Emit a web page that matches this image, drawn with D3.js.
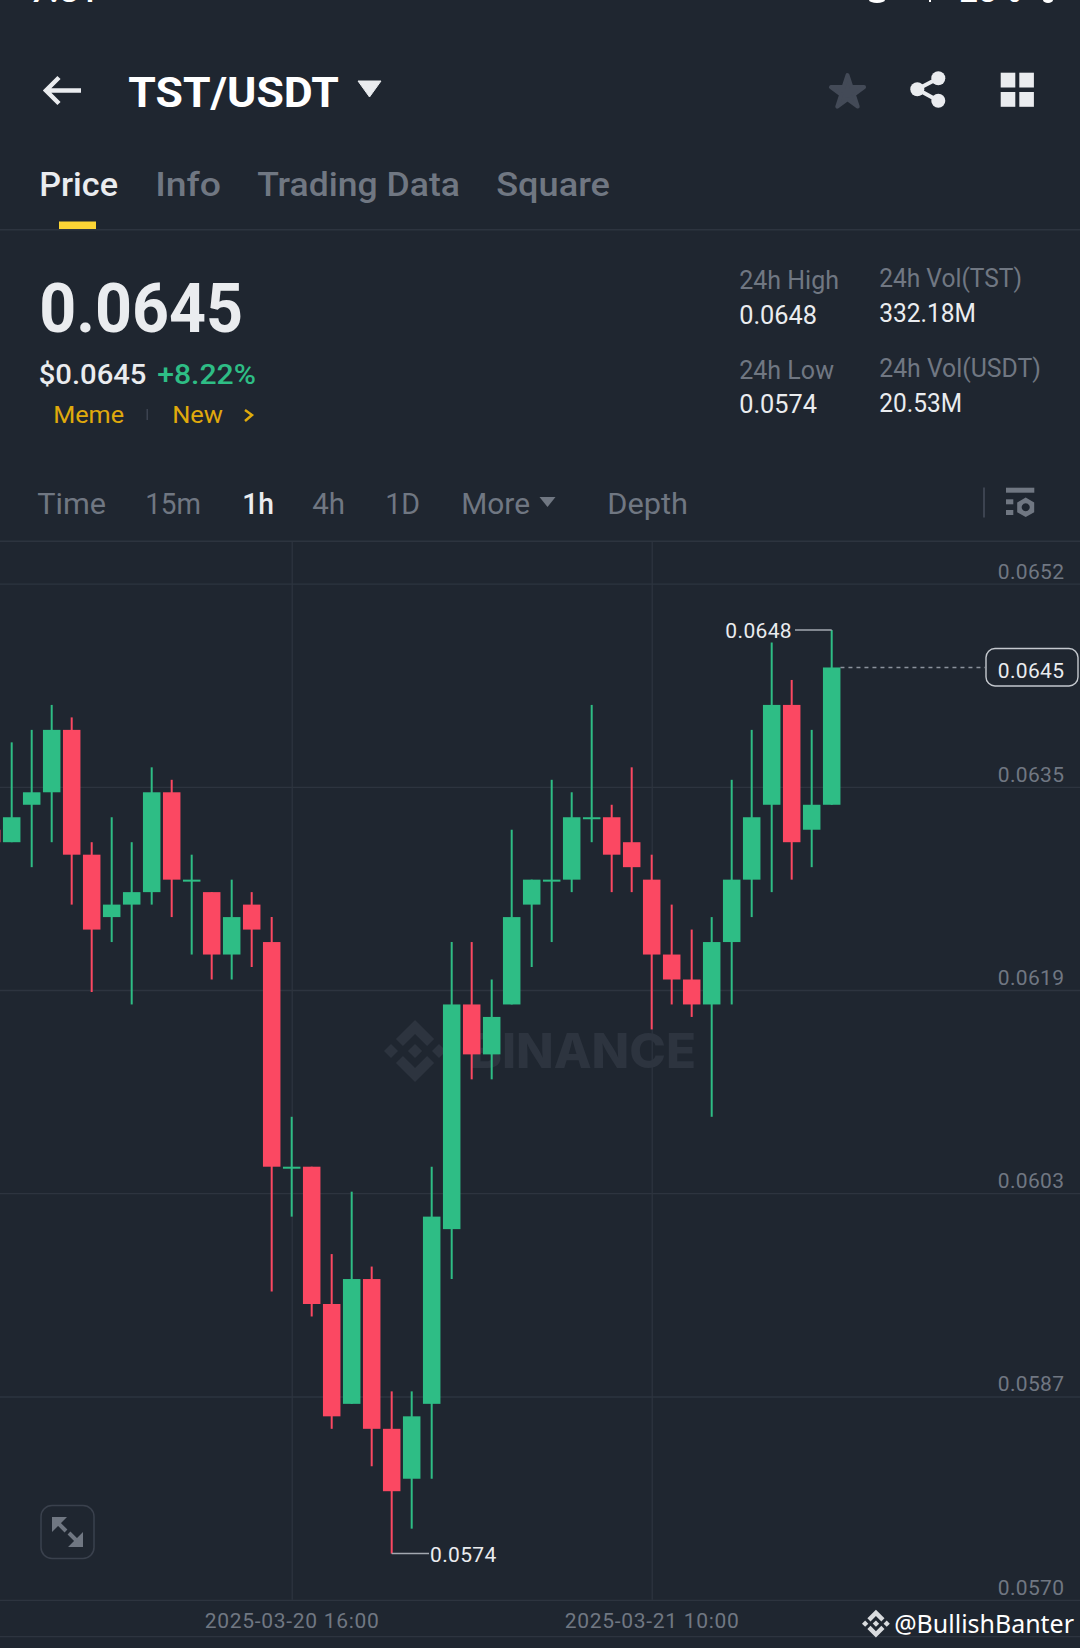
<!DOCTYPE html>
<html>
<head>
<meta charset="utf-8">
<title>TST/USDT</title>
<script src="https://cdn.jsdelivr.net/npm/d3@7/dist/d3.min.js"></script>
<style>
  html, body { margin: 0; padding: 0; background: #1f2630; }
  svg { display: block; }
  text { font-family: Roboto, "Noto Sans", sans-serif; }
</style>
</head>
<body>
<div id="chart"></div>
<script>
// hourly candles, the first one is only just visible at the left edge
const firstCandle = new Date(2025, 2, 20, 1);
const candleOpen  = [0.0632, 0.0631, 0.0634, 0.0635, 0.0640, 0.0630, 0.0625, 0.0626, 0.0627, 0.0635, 0.0628, 0.0627, 0.0622, 0.0626, 0.0623, 0.0605, 0.0605, 0.0594, 0.0586, 0.0596, 0.0584, 0.0580, 0.0586, 0.0600, 0.0618, 0.0614, 0.0618, 0.0626, 0.0628, 0.0628, 0.0633, 0.0633, 0.0631, 0.0628, 0.0622, 0.0620, 0.0618, 0.0623, 0.0628, 0.0634, 0.0642, 0.0632, 0.0634];
const candleClose = [0.0631, 0.0633, 0.0635, 0.0640, 0.0630, 0.0624, 0.0626, 0.0627, 0.0635, 0.0628, 0.0628, 0.0622, 0.0625, 0.0624, 0.0605, 0.0605, 0.0594, 0.0585, 0.0596, 0.0584, 0.0579, 0.0585, 0.0601, 0.0618, 0.0614, 0.0617, 0.0625, 0.0628, 0.0628, 0.0633, 0.0633, 0.0630, 0.0629, 0.0622, 0.0620, 0.0618, 0.0623, 0.0628, 0.0633, 0.0642, 0.0631, 0.0634, 0.0645];
const candleHigh  = [0.0632, 0.0639, 0.0640, 0.0642, 0.0641, 0.0631, 0.0633, 0.0631, 0.0637, 0.0636, 0.0630, 0.0627, 0.0628, 0.0627, 0.0625, 0.0609, 0.0605, 0.0598, 0.0603, 0.0597, 0.0587, 0.0587, 0.0605, 0.0623, 0.0623, 0.0620, 0.0632, 0.0628, 0.0636, 0.0635, 0.0642, 0.0634, 0.0637, 0.0630, 0.0626, 0.0624, 0.0625, 0.0636, 0.0640, 0.0647, 0.0644, 0.0640, 0.0648];
const candleLow   = [0.0631, 0.0631, 0.0629, 0.0631, 0.0626, 0.0619, 0.0623, 0.0618, 0.0626, 0.0625, 0.0622, 0.0620, 0.0620, 0.0621, 0.0595, 0.0601, 0.0593, 0.0584, 0.0586, 0.0581, 0.0574, 0.0576, 0.0580, 0.0596, 0.0612, 0.0612, 0.0618, 0.0621, 0.0623, 0.0627, 0.0631, 0.0627, 0.0627, 0.0616, 0.0618, 0.0617, 0.0609, 0.0618, 0.0625, 0.0627, 0.0628, 0.0629, 0.0634];

const priceTicks = [0.065172, 0.063544, 0.061916, 0.060288, 0.058659, 0.057030];
const timeTicks = [new Date(2025, 2, 20, 16), new Date(2025, 2, 21, 10)];

const tabs = [['Price', 40, 77, '#eaecef'], ['Info', 156, 64, '#707782'], ['Trading Data', 258, 201, '#707782'], ['Square', 497, 112, '#707782']];
const intervals = [['Time', 38, 67, '#707782'], ['15m', 146, 54, '#707782'], ['1h', 243, 30, '#eaecef'], ['4h', 313, 31, '#707782'], ['1D', 386, 33, '#707782'], ['More', 462, 67, '#707782'], ['Depth', 608, 79, '#707782']];
const stats = [
  ['24h High', 740, 288.5, 98, '#707782'], ['0.0648', 740, 323.5, 76, '#eaecef'],
  ['24h Low', 740, 379, 93, '#707782'], ['0.0574', 740, 413, 76, '#eaecef'],
  ['24h Vol(TST)', 880, 286.5, 141, '#707782'], ['332.18M', 880, 321.5, 95, '#eaecef'],
  ['24h Vol(USDT)', 880, 377, 160, '#707782'], ['20.53M', 880, 411.5, 81, '#eaecef']
];

const width = 1080, height = 1648;
const chartTop = 542, chartBottom = 1599.8;
const green = '#2ebd85', red = '#fb4862', bg = '#1f2630', gridColor = '#2d343f', axisText = '#707782';

const times = candleOpen.map((d, i) => d3.timeHour.offset(firstCandle, i));

const x = d3.scaleTime().domain(timeTicks).range([291.7, 651.7]);
const y = d3.scaleLinear().domain([priceTicks[5], priceTicks[0]]).range([chartBottom, 583.6]);

const svg = d3.select('#chart').append('svg').attr('width', width).attr('height', height);
svg.append('rect').attr('width', width).attr('height', height).attr('fill', bg);

// textLength squeezes the wider Roboto glyphs to the widths of the original font
function label(parent, str, xPos, base, size, color, len, weight) {
  const t = parent.append('text')
    .attr('x', len ? xPos - 0.8 : xPos).attr('y', base)
    .attr('font-size', size).attr('fill', color)
    .attr('font-weight', weight || 400)
    .text(str);
  if (len) t.attr('textLength', len + 1.8).attr('lengthAdjust', 'spacingAndGlyphs');
  return t;
}

// status bar, cut off by the top of the screenshot
label(svg, '7:51', 30, 2, 30, '#ffffff', 68, 500);
label(svg, '25%', 960, 2, 30, '#ffffff', 60, 500);
svg.append('ellipse').attr('cx', 877).attr('cy', 0).attr('rx', 8).attr('ry', 3).attr('fill', '#ffffff');
svg.append('rect').attr('x', 929).attr('y', 0).attr('width', 2).attr('height', 2).attr('fill', '#ffffff');
svg.append('ellipse').attr('cx', 1048).attr('cy', 0).attr('rx', 5).attr('ry', 3).attr('fill', '#ffffff');

// header
svg.append('path').attr('d', 'M81 90.5H47M59 77.5L46 90.5L59 103.5')
  .attr('fill', 'none').attr('stroke', '#eaecef').attr('stroke-width', 4.5);
label(svg, 'TST/USDT', 129, 106.5, 43, '#ffffff', 209, 700);
svg.append('path').attr('d', 'M358 81H381L369.5 97Z').attr('fill', '#eaecef').attr('stroke', '#eaecef').attr('stroke-width', 1).attr('stroke-linejoin', 'round');
svg.append('path').attr('d', d3.symbol(d3.symbolStar, 340)).attr('transform', 'translate(847.5,92.5)')
  .attr('fill', '#434a57').attr('stroke', '#434a57').attr('stroke-width', 4).attr('stroke-linejoin', 'round');

const share = svg.append('g').attr('fill', '#eaecef').attr('stroke', '#eaecef');
share.append('path').attr('d', 'M938.3 78.3L917.3 89.3L938.3 100.7').attr('fill', 'none').attr('stroke-width', 4);
[[938.3, 78.3], [917.3, 89.3], [938.3, 100.7]].forEach(c => {
  share.append('circle').attr('cx', c[0]).attr('cy', c[1]).attr('r', 7).attr('stroke', 'none');
});
[[1000.7, 72.7], [1019.3, 72.7], [1000.7, 92], [1019.3, 92]].forEach(c => {
  svg.append('rect').attr('x', c[0]).attr('y', c[1]).attr('width', 14.6).attr('height', 14.8).attr('fill', '#eaecef');
});

// tabs
tabs.forEach(d => label(svg, d[0], d[1], 196, 33, d[3], d[2], 500));
svg.append('rect').attr('x', 59).attr('y', 221.5).attr('width', 37).attr('height', 8).attr('fill', '#fcd535');
svg.append('rect').attr('x', 0).attr('y', 229).attr('width', width).attr('height', 1.5).attr('fill', gridColor);

// price block
label(svg, '0.0645', 40, 332, 69, '#eaecef', 202, 700);
label(svg, '$0.0645', 39.5, 384, 27, '#eaecef', 106, 500);
label(svg, '+8.22%', 158, 384, 27, green, 97, 500);
label(svg, 'Meme', 54, 423, 24, '#e0aa0c', 69);
svg.append('rect').attr('x', 146.5).attr('y', 409).attr('width', 1.5).attr('height', 11).attr('fill', '#3c4350');
label(svg, 'New', 173, 423, 24, '#e0aa0c', 49);
svg.append('path').attr('d', 'M245 410L252 415L245 421').attr('fill', 'none').attr('stroke', '#e0aa0c').attr('stroke-width', 2.5);
stats.forEach(d => label(svg, d[0], d[1], d[2], 25, d[4], d[3]));

// interval bar
intervals.forEach(d => label(svg, d[0], d[1], 514, 30, d[3], d[2], d[0] === '1h' ? 500 : 400));
svg.append('path').attr('d', 'M539.5 497H555.5L547.5 507Z').attr('fill', axisText);
svg.append('rect').attr('x', 983).attr('y', 487.5).attr('width', 2).attr('height', 30).attr('fill', '#3c4350');
const settings = svg.append('g').attr('fill', axisText);
settings.append('rect').attr('x', 1006).attr('y', 487.7).attr('width', 28.3).attr('height', 5);
settings.append('rect').attr('x', 1006).attr('y', 499.3).attr('width', 7.3).attr('height', 5);
settings.append('rect').attr('x', 1006).attr('y', 510).attr('width', 7.3).attr('height', 5);
settings.append('path').attr('fill-rule', 'evenodd')
  .attr('d', 'M1025.7 497.5L1034.2 502.4V512.2L1025.7 517.1L1017.2 512.2V502.4ZM1025.7 503.3a4 4 0 1 0 0.01 0Z');
svg.append('rect').attr('x', 0).attr('y', 540.5).attr('width', width).attr('height', 1.5).attr('fill', gridColor);

// axes double as the grid
const yAxis = d3.axisRight(y).tickValues(priceTicks).tickSize(width).tickFormat(d3.format('.4f'));
const gy = svg.append('g').attr('class', 'y-axis').call(yAxis);
gy.select('.domain').remove();
gy.selectAll('line').attr('stroke', gridColor).attr('stroke-width', 1.3);
gy.selectAll('text').attr('x', 1064.4).attr('y', -5.5).attr('dy', 0).attr('text-anchor', 'end')
  .attr('font-size', 21).attr('font-family', 'Roboto').attr('letter-spacing', 0.35).attr('fill', axisText);

const xAxis = d3.axisBottom(x).tickValues(timeTicks).tickSize(chartTop - chartBottom)
  .tickFormat(d3.timeFormat('%Y-%m-%d %H:%M'));
const gx = svg.append('g').attr('class', 'x-axis').attr('transform', 'translate(0,' + chartBottom + ')').call(xAxis);
gx.select('.domain').remove();
gx.selectAll('line').attr('stroke', gridColor).attr('stroke-width', 1.3);
gx.selectAll('text').attr('y', 28).attr('dy', 0).attr('text-anchor', 'middle')
  .attr('font-size', 21).attr('font-family', 'Roboto').attr('letter-spacing', 0.7).attr('fill', axisText);
svg.append('rect').attr('x', 0).attr('y', 1636).attr('width', width).attr('height', 1.3).attr('fill', gridColor);

// watermark behind the candles
const logoPaths = [
  'M38.73 53.2l24.59-24.58 24.6 24.6 14.3-14.31L63.32 0 24.43 38.9z',
  'M0 63.31l14.3-14.31 14.31 14.31-14.31 14.3z',
  'M38.73 73.41l24.59 24.59 24.6-24.6 14.31 14.29L63.32 126.61 24.43 87.72z',
  'M98 63.31l14.3-14.31 14.31 14.3-14.31 14.32z',
  'M77.83 63.3L63.32 48.78 48.81 63.28l14.51 14.52z'
];
const wm = svg.append('g').attr('transform', 'translate(384,1020) scale(0.49)').attr('fill', '#2d343f');
logoPaths.forEach(p => wm.append('path').attr('d', p));
label(svg, 'BINANCE', 470, 1068, 48, '#2d343f', 225, 800).style('font-family', 'Inter');

// candles
const bodyWidth = 17.5;
const candles = svg.append('g').selectAll('g').data(times).enter().append('g')
  .attr('fill', (d, i) => candleClose[i] >= candleOpen[i] ? green : red)
  .attr('stroke', (d, i) => candleClose[i] >= candleOpen[i] ? green : red);
candles.append('line')
  .attr('x1', d => x(d)).attr('x2', d => x(d))
  .attr('y1', (d, i) => y(candleHigh[i])).attr('y2', (d, i) => y(candleLow[i]))
  .attr('stroke-width', 2);
candles.append('rect')
  .attr('x', d => x(d) - bodyWidth / 2)
  .attr('y', (d, i) => y(Math.max(candleOpen[i], candleClose[i])))
  .attr('width', bodyWidth)
  .attr('height', (d, i) => Math.max(Math.abs(y(candleOpen[i]) - y(candleClose[i])), 2))
  .attr('stroke', 'none');

// last price marker
const lastIndex = times.length - 1;
const lastPrice = candleClose[lastIndex];
svg.append('line').attr('x1', x(times[lastIndex]) + bodyWidth / 2).attr('x2', 985)
  .attr('y1', y(lastPrice)).attr('y2', y(lastPrice))
  .attr('stroke', '#8b929c').attr('stroke-width', 1.5).attr('stroke-dasharray', '4 4');
svg.append('rect').attr('x', 986).attr('y', 648.5).attr('width', 92).attr('height', 37.5).attr('rx', 9)
  .attr('fill', bg).attr('stroke', '#c4c8ce').attr('stroke-width', 1.4);
svg.append('text').attr('x', 1064.4).attr('y', 677.5).attr('text-anchor', 'end').attr('font-size', 21)
  .attr('letter-spacing', 0.35).attr('fill', '#eaecef').text(d3.format('.4f')(lastPrice));

// high and low annotations
const highIndex = d3.maxIndex(candleHigh), lowIndex = d3.minIndex(candleLow);
const highY = y(candleHigh[highIndex]), lowY = y(candleLow[lowIndex]);
svg.append('line').attr('x1', 795).attr('x2', x(times[highIndex])).attr('y1', highY).attr('y2', highY)
  .attr('stroke', '#a3a8b0').attr('stroke-width', 1.5);
svg.append('text').attr('x', 792).attr('y', highY + 8).attr('text-anchor', 'end').attr('font-size', 21)
  .attr('letter-spacing', 0.35).attr('fill', '#eaecef').text(d3.format('.4f')(candleHigh[highIndex]));
svg.append('line').attr('x1', x(times[lowIndex])).attr('x2', 429).attr('y1', lowY).attr('y2', lowY)
  .attr('stroke', '#a3a8b0').attr('stroke-width', 1.5);
svg.append('text').attr('x', 430).attr('y', lowY + 8.5).attr('font-size', 21)
  .attr('letter-spacing', 0.35).attr('fill', '#eaecef').text(d3.format('.4f')(candleLow[lowIndex]));

// expand button
svg.append('rect').attr('x', 41).attr('y', 1505.5).attr('width', 53).attr('height', 53).attr('rx', 11)
  .attr('fill', 'none').attr('stroke', '#3a414d').attr('stroke-width', 1.5);
svg.append('path').attr('d', 'M52 1517H67L52 1532ZM83 1547H68L83 1532Z').attr('fill', axisText);
svg.append('path').attr('d', 'M56 1521L66 1531M79 1543L69 1533').attr('stroke', axisText).attr('stroke-width', 4);

// square watermark, bottom right
const sq = svg.append('g').attr('transform', 'translate(862,1609.7) scale(0.22)').attr('fill', '#d9dbde');
logoPaths.forEach(p => sq.append('path').attr('d', p));
label(svg, '@BullishBanter', 895, 1633, 25, '#ffffff', 178, 400).style('font-family', 'Noto Sans');
</script>
</body>
</html>
